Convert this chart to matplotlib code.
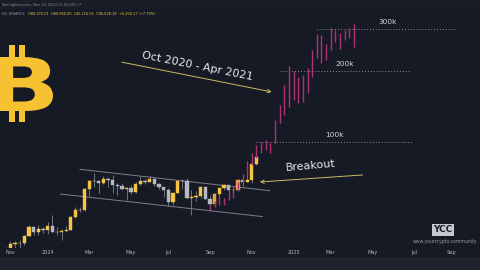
import numpy as np
import pandas as pd
import matplotlib
matplotlib.use("Agg")
import matplotlib.pyplot as plt
import matplotlib.dates as mdates
from matplotlib.textpath import TextPath
from matplotlib.patches import PathPatch, Rectangle
from matplotlib.font_manager import FontProperties
from matplotlib.transforms import Affine2D

# weekly BTCUSDT candles, Binance
weeks = pd.date_range("2023-10-30", "2024-11-11", freq="7D")
opens = [34500, 35011, 37065, 37360, 37455, 39972, 43790, 41375, 42990, 42280,
         43930, 41730, 41580, 42030, 42580, 48300, 51660, 51730, 63110, 68360,
         68390, 67210, 69650, 69360, 65660, 64940, 63120, 63990, 61480, 66270,
         68510, 67760, 69650, 66670, 64250, 62770, 55860, 60800, 68160, 68250,
         58160, 58710, 58900, 64220, 57300, 54840, 59990, 63580, 65600, 62820,
         62850, 68980, 68000, 68770, 80370]
highs = [35985, 37980, 37980, 38450, 40250, 44700, 43840, 44400, 43800, 45880,
         48970, 43580, 42840, 43880, 48590, 52820, 52980, 63900, 69000, 73780,
         68920, 71770, 71340, 72800, 66870, 67230, 64730, 65500, 67700, 71980,
         70000, 71950, 70200, 66990, 64500, 63860, 61000, 68370, 69400, 70080,
         62740, 61800, 65000, 64480, 59800, 60670, 64130, 66500, 65650, 64480,
         69400, 69520, 73620, 81500, 89940]
lows = [34097, 34523, 34800, 35632, 36700, 39980, 40200, 40520, 41300, 40750,
        41500, 40280, 38550, 41800, 42260, 47700, 50520, 50900, 59000, 64530,
        60760, 66390, 64500, 60660, 59600, 62790, 56550, 60190, 60750, 66060,
        66600, 67480, 65080, 63380, 58400, 53490, 54260, 60630, 63450, 57120,
        49000, 56080, 57800, 57200, 52550, 54580, 57500, 62600, 59830, 58900,
        62000, 65100, 67480, 66800, 80216]
closes = [35011, 37065, 37360, 37455, 39972, 43790, 41375, 42990, 42280, 43930,
          41730, 41580, 42030, 42580, 48300, 51660, 51730, 63110, 68360, 68390,
          67210, 69650, 69360, 65660, 64940, 63120, 63990, 61480, 66270, 68510,
          67760, 69650, 66670, 64250, 62770, 55860, 60800, 68160, 68250, 58160,
          58710, 58900, 64220, 57300, 54840, 59990, 63580, 65600, 62820, 62850,
          68980, 68000, 68770, 80370, 86628]
orange_weeks = ["2024-09-09", "2024-10-14"]

# Oct 2020 - Apr 2021 fractal projected forward (high / low bars)
proj_weeks = pd.date_range("2024-09-02", periods=32, freq="7D")
proj_high = [54000, 56300, 58500, 57900, 60800, 62600, 68000, 73000, 83000, 89600,
             97000, 100000, 102000, 98700, 124000, 143000, 174000, 209000, 200000, 189000,
             192000, 205000, 245000, 287000, 284000, 260000, 303000, 298000, 290000, 298000,
             303000, 316000]
proj_low = [51200, 53000, 54100, 54100, 56800, 57900, 62600, 68000, 72500, 80000,
            85400, 90000, 92500, 90000, 98700, 120000, 130000, 141000, 151000, 146000,
            148000, 161000, 189000, 226000, 216000, 223000, 245000, 266000, 247000, 270000,
            275000, 252000]

# horizontal levels
levels = [100000, 200000, 300000]
level_labels = ["100k", "200k", "300k"]
level_start = ["2024-11-11", "2024-12-16", "2025-02-10"]
level_end = ["2025-07-03", "2025-06-30", "2025-09-09"]
level_label_x = ["2025-03-08", "2025-03-24", "2025-05-28"]

# channel lines
upper_x = ["2024-02-19", "2024-12-01"]
upper_y = [76600, 62200]
lower_x = ["2024-01-20", "2024-11-20"]
lower_y = [60200, 48300]

tick_dates = ["2023-11-06", "2024-01-01", "2024-03-04", "2024-05-06", "2024-07-01",
              "2024-09-02", "2024-11-04", "2025-01-06", "2025-03-03", "2025-05-05",
              "2025-07-07", "2025-09-01"]
tick_labels = ["Nov", "2024", "Mar", "May", "Jul", "Sep", "Nov", "2025", "Mar", "May", "Jul", "Sep"]

bg = "#161a25"
yellow = "#f4c53d"
grey = "#b5b8c2"
orange = "#f0a040"
pink = "#ad3372"
arrow_col = "#cdb964"

def d(s):
    return mdates.date2num(pd.to_datetime(s))

fig = plt.figure(figsize=(4.8, 2.7), dpi=100, facecolor=bg)
fig.patches.append(Rectangle((0, 0), 1, 13 / 270, transform=fig.transFigure,
                             facecolor="#1e222d", edgecolor="none", zorder=-1))
fig.patches.append(Rectangle((0, 1 - 9 / 270), 1, 9 / 270, transform=fig.transFigure,
                             facecolor="#191d28", edgecolor="none", zorder=-1))

ax = fig.add_axes([0, 22 / 270, 1, 248 / 270])
ax.set_facecolor("none")
ax.set_yscale("log")
ax.set_ylim(35550, 399800)
ax.set_xlim(d("2023-10-21 05:00"), d("2025-10-14 02:00"))
for s in ax.spines.values():
    s.set_visible(False)
ax.yaxis.set_visible(False)
ax.yaxis.set_minor_locator(matplotlib.ticker.NullLocator())
ax.set_xticks(d(tick_dates))
ax.set_xticklabels(tick_labels)
ax.tick_params(axis="x", length=0, pad=1.2, labelsize=3.6, labelcolor="#b2b5be")

# channel
ax.plot(d(upper_x), upper_y, color="#7c7f8a", lw=0.7, zorder=2)
ax.plot(d(lower_x), lower_y, color="#7c7f8a", lw=0.7, zorder=2)

# candles
x = d(weeks)
o = np.array(opens, float)
c = np.array(closes, float)
cols = [yellow if cc >= oo else grey for oo, cc in zip(o, c)]
for w in orange_weeks:
    cols[list(weeks).index(pd.Timestamp(w))] = orange
ax.vlines(x, lows, highs, color="#80838c", lw=0.6, zorder=3)
ax.bar(x, np.abs(c - o), bottom=np.minimum(o, c), width=5, color=cols,
       edgecolor=cols, linewidth=0.3, zorder=4)

# projected bars
ax.vlines(d(proj_weeks), proj_low, proj_high, color=pink, lw=1.0, zorder=5)

# levels
for lv, lab, xs, xe, xl in zip(levels, level_labels, level_start, level_end, level_label_x):
    ax.plot([d(xs), d(xe)], [lv, lv], color="#8a8d96", lw=0.7, ls=(0, (1, 2)), zorder=2)
    ax.annotate(lab, (d(xl), lv), xytext=(0, 3), textcoords="offset points",
                ha="center", va="bottom", fontsize=5.3, color="#d1d4dc")

# annotations
ax.annotate("", xy=(d("2024-12-04"), 163000), xytext=(d("2024-04-22"), 218000),
            arrowprops=dict(arrowstyle="->", color=arrow_col, lw=0.7,
                            mutation_scale=6, shrinkA=0, shrinkB=0), zorder=6)
ax.text(d("2024-08-14"), 210000, "Oct 2020 - Apr 2021", rotation=-11.3,
        rotation_mode="anchor", ha="center", va="center", fontsize=8, color="#e6e8ee", zorder=6)
ax.annotate("", xy=(d("2024-11-16"), 67700), xytext=(d("2025-04-20"), 72500),
            arrowprops=dict(arrowstyle="->", color=arrow_col, lw=0.7,
                            mutation_scale=6, shrinkA=0, shrinkB=0), zorder=6)
ax.text(d("2025-02-01"), 79100, "Breakout", rotation=5, rotation_mode="anchor",
        ha="center", va="center", fontsize=8, color="#e6e8ee", zorder=6)

# overlay for logo / header / watermark, pixel coordinates
ov = fig.add_axes([0, 0, 1, 1])
ov.set_xlim(0, 480)
ov.set_ylim(270, 0)
ov.axis("off")

tp = TextPath((0, 0), "B", size=100, prop=FontProperties(family="DejaVu Sans", weight="bold"))
bb = tp.get_extents()
tr = (Affine2D().translate(-bb.x0, -bb.y0).scale(58 / bb.width, -54 / bb.height)
      .translate(-5, 111))
ov.add_patch(PathPatch(tr.transform_path(tp), facecolor="#f6c232", edgecolor="none"))
for sx in [8.5, 19]:
    ov.add_patch(Rectangle((sx, 45), 6, 13, facecolor="#f6c232", edgecolor="none"))
    ov.add_patch(Rectangle((sx, 109), 6, 13, facecolor="#f6c232", edgecolor="none"))

ov.text(1, 5, "TradingView.com, Nov 13, 2024 11:54 UTC+7", fontsize=2.5,
        color="#8a8d96", va="center", ha="left")
ov.text(1, 14, "1W, BINANCE", fontsize=2.5, color="#8a8d96", va="center", ha="left")
ov.text(28, 14, "O80,370.01  H89,940.00  L80,216.01  C86,628.18  +6,258.17 (+7.79%)",
        fontsize=2.5, color="#e8c547", va="center", ha="left")

ov.text(443, 230, "YCC", fontsize=6.5, weight="bold", color="#1b1f2a", ha="center",
        va="center", bbox=dict(boxstyle="square,pad=0.15", fc="#c5c8d0", ec="none"))
ov.text(445, 242, "www.yourcrypto.community", fontsize=3.3, color="#9598a1",
        ha="center", va="center")

fig.savefig("out.png", dpi=100, facecolor=bg)
